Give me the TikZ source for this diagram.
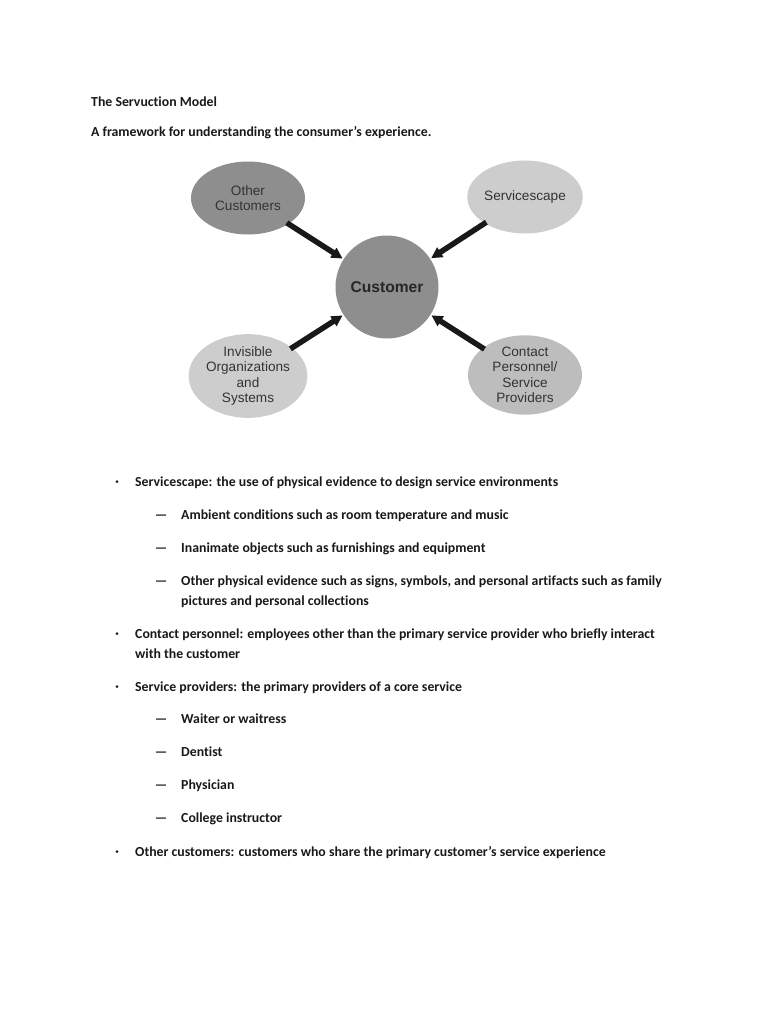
\documentclass[tikz,border=0pt]{standalone}
\usepackage{fontspec}
\setmainfont{Carlito}[Ligatures=NoCommon]
\newfontfamily\diagfont{Liberation Sans}
\usetikzlibrary{shapes.geometric,arrows.meta}
\definecolor{darkfill}{HTML}{8E8E8E}
\definecolor{lightfill}{HTML}{CDCDCD}
\definecolor{midfill}{HTML}{BDBDBD}
\definecolor{diagtext}{HTML}{333333}
\tikzset{
  bubble/.style={ellipse, minimum width=114pt, minimum height=73pt, inner sep=0pt,
    align=center, text=diagtext, font=\diagfont\fontsize{13.6}{15.5}\selectfont},
  bigarrow/.style={line width=5.5pt, -{Triangle[length=11pt,width=11pt]}, black!90,
    shorten <=-2pt, shorten >=1pt},
  body/.style={anchor=base west, inner sep=0pt, font=\bfseries\fontsize{13.8}{20}\selectfont, text=black!90},
  bul/.style={circle, fill=black!90, inner sep=0pt, minimum size=3pt},
  dsh/.style={anchor=base, inner sep=0pt, font=\bfseries\fontsize{13.8}{20}\selectfont, text=black!90}
}
\begin{document}
\begin{tikzpicture}[x=1pt,y=-1pt]
\useasboundingbox (0,0) rectangle (768,1024);
% title
\node[body] (t1) at (91,107) {The Servuction Model};
\node[body] (t2) at (91,137) {A framework for understanding the consumer’s experience.};
% diagram
\node[bubble, fill=darkfill] (oc) at (248,198) {Other\\Customers};
\node[bubble, fill=lightfill] (sv) at (525,197) {Servicescape};
\node[bubble, fill=lightfill] (io) at (248,376) {Invisible\\Organizations\\and\\Systems};
\node[bubble, fill=midfill] (cp) at (525,375) {Contact\\Personnel/\\Service\\Providers};
\node[circle, fill=darkfill, minimum size=103pt, inner sep=0pt, text=black!85,
  font=\diagfont\bfseries\fontsize{15.6}{18}\selectfont] (cu) at (387,287) {Customer};
\draw[bigarrow] (oc) -- (cu);
\draw[bigarrow] (sv) -- (cu);
\draw[bigarrow] (io) -- (cu);
\draw[bigarrow] (cp) -- (cu);
% bullets
\node[bul] (b1) at (117,481.5) {};
\node[body] (l1) at (135,486) {Servicescape: the use of physical evidence to design service environments};
\node[dsh] (d1) at (161,519) {—};
\node[body] (l2) at (181,519) {Ambient conditions such as room temperature and music};
\node[dsh] (d2) at (161,552) {—};
\node[body] (l3) at (181,552) {Inanimate objects such as furnishings and equipment};
\node[dsh] (d3) at (161,585) {—};
\node[body] (l4) at (181,585) {Other physical evidence such as signs, symbols, and personal artifacts such as family};
\node[body] (l4b) at (181,605) {pictures and personal collections};
\node[bul] (b2) at (117,633.5) {};
\node[body] (l5) at (135,638) {Contact personnel: employees other than the primary service provider who briefly interact};
\node[body] (l5b) at (135,658) {with the customer};
\node[bul] (b3) at (117,686.5) {};
\node[body] (l6) at (135,691) {Service providers: the primary providers of a core service};
\node[dsh] (d4) at (161,723) {—};
\node[body] (l7) at (181,723) {Waiter or waitress};
\node[dsh] (d5) at (161,756) {—};
\node[body] (l8) at (181,756) {Dentist};
\node[dsh] (d6) at (161,789) {—};
\node[body] (l9) at (181,789) {Physician};
\node[dsh] (d7) at (161,822) {—};
\node[body] (l10) at (181,822) {College instructor};
\node[bul] (b4) at (117,851.5) {};
\node[body] (l11) at (135,856) {Other customers: customers who share the primary customer’s service experience};
\end{tikzpicture}
\end{document}
